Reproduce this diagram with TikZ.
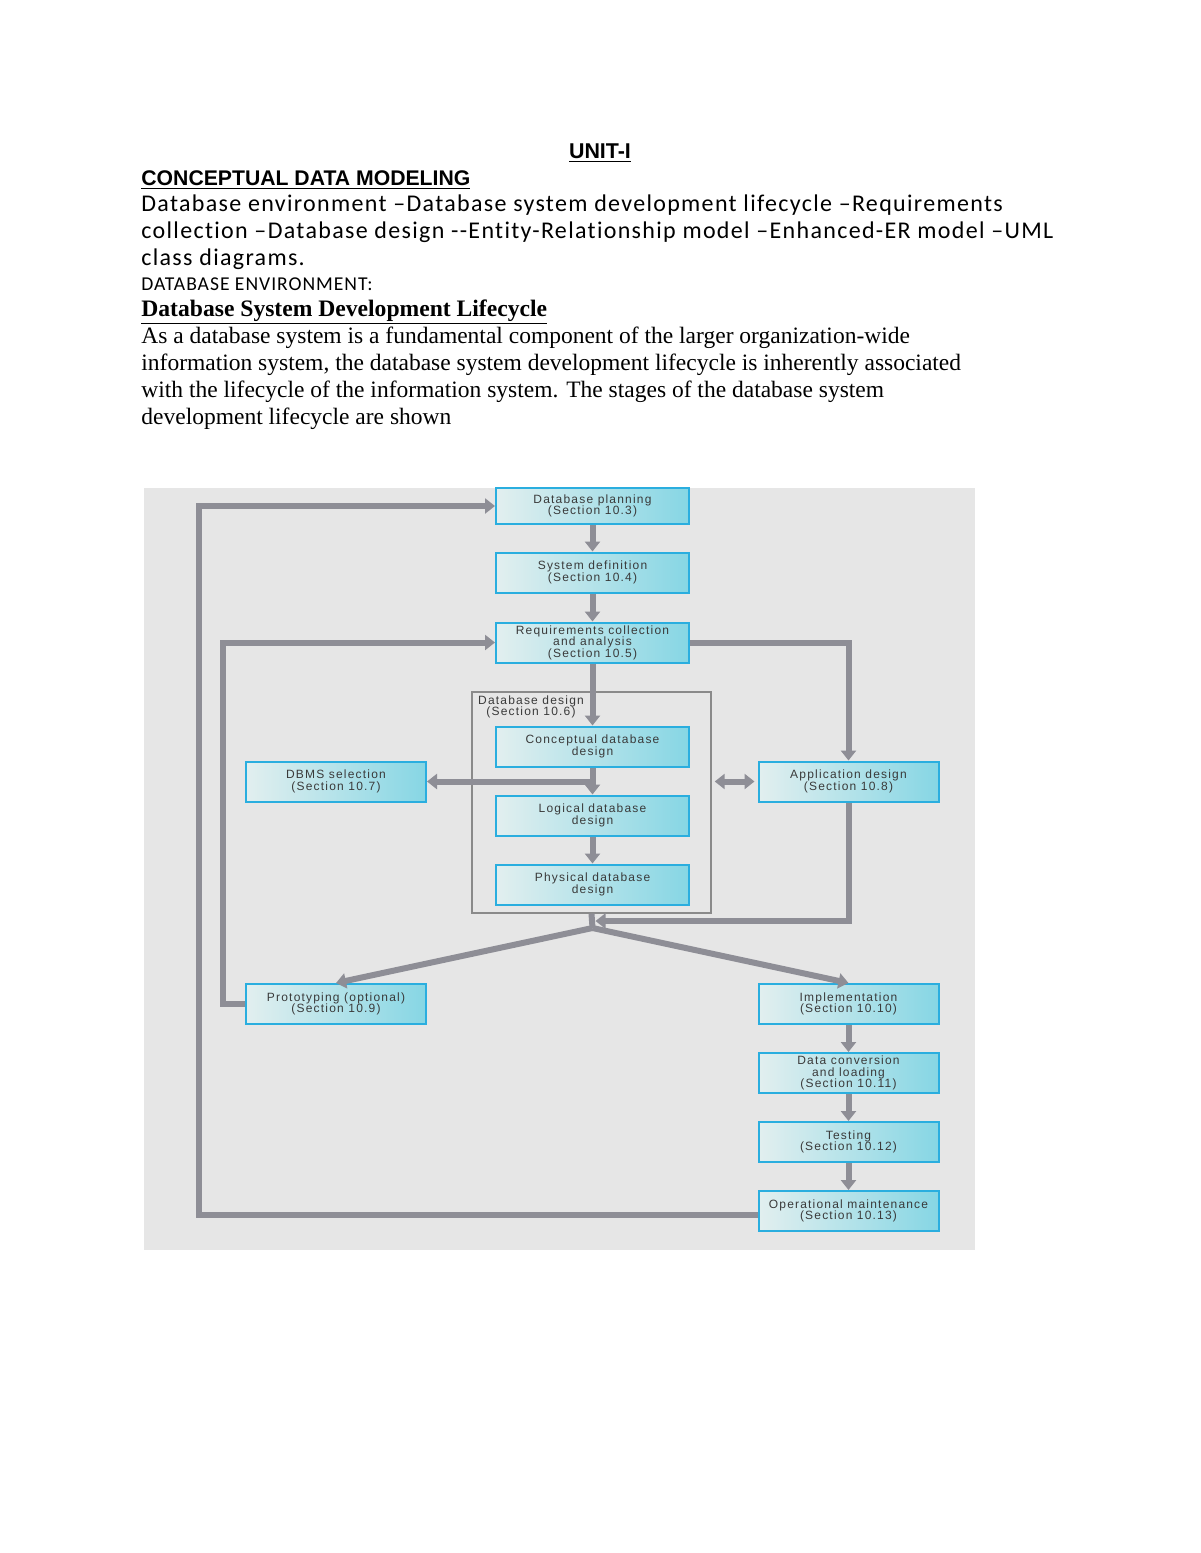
\documentclass[tikz,border=0pt]{standalone}
\usepackage{fontspec}
\setmainfont{Liberation Serif}
\newfontfamily\arialFont{Liberation Sans}
\newfontfamily\stageFont[LetterSpace=10]{Liberation Sans}
\newfontfamily\calibriFont[LetterSpace=5.5, Ligatures=NoCommon]{Carlito}
\newfontfamily\calibriSmall[LetterSpace=5, Ligatures=NoCommon]{Carlito}
\usetikzlibrary{positioning, arrows.meta, calc}

\definecolor{bgGray}{HTML}{E6E6E6}
\definecolor{flowGray}{HTML}{8E8E96}
\definecolor{frameGray}{HTML}{8A8A8A}
\definecolor{boxBorder}{HTML}{2AAEDF}
\definecolor{boxLight}{HTML}{E2EFEF}
\definecolor{boxCyan}{HTML}{86D6E4}
\definecolor{stageText}{HTML}{3A3A3A}

\tikzset{
	stage/.style={rectangle, draw=boxBorder, line width=1pt, left color=boxLight,
		right color=boxCyan, text centered, align=center, inner sep=1pt,
		text=stageText, font=\stageFont\fontsize{6}{5.8}\selectfont},
	wideStage/.style={stage, minimum width=96.5pt, minimum height=20pt},
	sideStage/.style={stage, minimum width=90pt, minimum height=20pt},
	flow/.style={draw=flowGray, line width=3pt, -{Triangle[width=7.5pt,length=5pt]}},
	bodyLine/.style={anchor=base west, inner sep=0pt}
}

\begin{document}
\begin{tikzpicture}[x=0.5pt, y=-0.5pt]

			\useasboundingbox (0,0) rectangle (1200,1553);

			%Text
			\node (unitTitle) at (600,153) [inner sep=0pt] {\arialFont\fontsize{10.7}{12}\selectfont\bfseries\underline{UNIT-I}};
			\node (chapterTitle) at (141,185) [bodyLine] {\arialFont\fontsize{10.6}{12}\selectfont\bfseries\underline{CONCEPTUAL DATA MODELING}};
			\node (topicsA) at (141,211) [bodyLine] {\calibriFont\fontsize{12}{13}\selectfont Database environment –Database system development lifecycle –Requirements};
			\node (topicsB) at (141,238) [bodyLine] {\calibriFont\fontsize{12}{13}\selectfont collection –Database design --Entity-Relationship model –Enhanced-ER model –UML};
			\node (topicsC) at (141,265) [bodyLine] {\calibriFont\fontsize{12}{13}\selectfont class diagrams.};
			\node (envHeading) at (141,290) [bodyLine] {\calibriSmall\fontsize{9.8}{10}\selectfont DATABASE ENVIRONMENT:};
			\node (lifeHeading) at (141,316) [bodyLine] {\fontsize{11.8}{13}\selectfont\bfseries\underline{Database System Development Lifecycle}};
			\node (paraA) at (141,343) [bodyLine] {\fontsize{11.75}{13}\selectfont As a database system is a fundamental component of the larger organization-wide};
			\node (paraB) at (141,370) [bodyLine] {\fontsize{11.75}{13}\selectfont information system, the database system development lifecycle is inherently associated};
			\node (paraC) at (141,397) [bodyLine] {\fontsize{11.75}{13}\selectfont with the lifecycle of the information system. The stages of the database system};
			\node (paraD) at (141,424) [bodyLine] {\fontsize{11.75}{13}\selectfont development lifecycle are shown};

			%Background
			\fill[bgGray] (144,488) rectangle (975,1250);

			%Nodes
			\node (databaseDesign) at (591.5,802.5) [rectangle, draw=frameGray, line width=0.7pt,
			minimum width=119.5pt, minimum height=110.5pt] {};
			\node (designLabel) at (531,707) [align=center, inner sep=0pt, text=stageText,
			font=\stageFont\fontsize{6}{5.8}\selectfont] {Database design\\(Section 10.6)};

			\node (databasePlanning) at (592.5,506) [wideStage, minimum height=18pt] {Database planning\\(Section 10.3)};
			\node (systemDefinition) at (592.5,572.5) [wideStage] {System definition\\(Section 10.4)};
			\node (requirements) at (592.5,642.5) [wideStage] {Requirements collection\\and analysis\\(Section 10.5)};
			\node (conceptualDesign) at (592.5,746.5) [wideStage] {Conceptual database\\design};
			\node (logicalDesign) at (592.5,815.5) [wideStage] {Logical database\\design};
			\node (physicalDesign) at (592.5,884.5) [wideStage] {Physical database\\design};

			\node (dbmsSelection) at (336,781.5) [sideStage] {DBMS selection\\(Section 10.7)};
			\node (applicationDesign) at (848.5,781.5) [sideStage] {Application design\\(Section 10.8)};
			\node (prototyping) at (336,1004) [sideStage] {Prototyping (optional)\\(Section 10.9)};
			\node (implementation) at (848.5,1004) [sideStage] {Implementation\\(Section 10.10)};
			\node (dataConversion) at (848.5,1073) [sideStage] {Data conversion\\and loading\\(Section 10.11)};
			\node (testing) at (848.5,1142) [sideStage] {Testing\\(Section 10.12)};
			\node (maintenance) at (848.5,1211) [sideStage] {Operational maintenance\\(Section 10.13)};

			\coordinate (joinPoint) at (592.5,921);
			\coordinate (splitPoint) at (592.5,928);

			%Links
			\draw [flow] (databasePlanning.south) -- (systemDefinition.north);
			\draw [flow] (systemDefinition.south) -- (requirements.north);
			\draw [flow] (requirements.south) -- (conceptualDesign.north);
			\draw [flow] (conceptualDesign.south) -- (logicalDesign.north);
			\draw [flow] (conceptualDesign.south |- dbmsSelection.east) -- (dbmsSelection.east);
			\draw [flow] (logicalDesign.south) -- (physicalDesign.north);
			\draw [flow, {Triangle[width=7.5pt,length=5pt]}-{Triangle[width=7.5pt,length=5pt]},
			shorten <=1.5pt, shorten >=1.5pt] (databaseDesign.east |- applicationDesign.west) -- (applicationDesign.west);
			\draw [flow] (requirements.east) -| (applicationDesign.north);
			\draw [flow, shorten >=1.5pt] (applicationDesign.south) |- (joinPoint);
			\draw [flow, -] (databaseDesign.south) -- (splitPoint);
			\draw [flow] (splitPoint) -- (prototyping.north);
			\draw [flow] (splitPoint) -- (implementation.north);
			\draw [flow] (prototyping.west) -- ++(-22,0) |- (requirements.west);
			\draw [flow] (implementation.south) -- (dataConversion.north);
			\draw [flow] (dataConversion.south) -- (testing.north);
			\draw [flow] (testing.south) -- (maintenance.north);
			\draw [flow] (maintenance.west) ++(0,4) -- ++(-559,0) |- (databasePlanning.west);

\end{tikzpicture}
\end{document}
